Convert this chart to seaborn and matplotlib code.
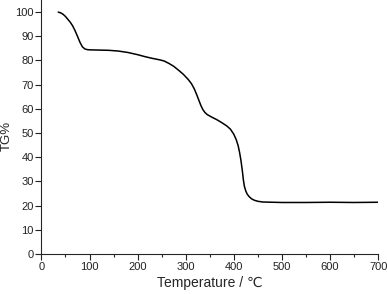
import numpy as np
import pandas as pd
import matplotlib
matplotlib.use("Agg")
import matplotlib.pyplot as plt
import seaborn as sns
from matplotlib.ticker import MultipleLocator

sns.set_style("ticks")
plt.rcParams['font.family'] = ['Liberation Sans', 'DejaVu Sans']

# TG curve
temperature = [35, 40, 45, 50, 55, 60, 65, 70, 75, 80, 85, 90, 95, 100, 120, 140, 160, 180, 200,
               215, 230, 245, 255, 265, 275, 285, 295, 305, 312, 318, 323, 328, 332, 336, 340, 345,
               355, 365, 375, 385, 393, 400, 405, 409, 412, 415, 418, 420, 422, 425, 428, 432, 437,
               443, 450, 460, 480, 500, 550, 600, 650, 700]
tg = [100.0, 99.7, 99.1, 98.2, 97.0, 95.8, 94.3, 92.3, 90.0, 87.6, 85.7, 84.8, 84.5, 84.4, 84.3, 84.2,
      83.9, 83.3, 82.4, 81.6, 80.9, 80.3, 79.8, 78.8, 77.6, 76.0, 74.3, 72.2, 70.4, 68.2, 65.8, 63.2,
      61.2, 59.6, 58.5, 57.6, 56.5, 55.5, 54.3, 53.0, 51.6, 49.5, 47.3, 44.8, 42.0, 38.5, 34.0, 30.5,
      28.0, 26.0, 24.7, 23.7, 22.8, 22.2, 21.8, 21.5, 21.4, 21.3, 21.3, 21.4, 21.3, 21.4]

df = pd.DataFrame({"Temperature": temperature, "TG": tg})

fig = plt.figure(figsize=(3.87, 2.94), dpi=100)
ax = fig.add_axes([0.107, 0.136, 0.870, 0.864])

sns.lineplot(data=df, x="Temperature", y="TG", sort=False, color="black", linewidth=1.1, ax=ax)

ax.set_xlim(0, 700)
ax.set_ylim(0, 105)
ax.xaxis.set_major_locator(MultipleLocator(100))
ax.xaxis.set_minor_locator(MultipleLocator(50))
ax.yaxis.set_major_locator(MultipleLocator(10))
ax.tick_params(axis='both', which='major', labelsize=8, length=4, width=0.8,
               direction='out', pad=1.5, colors='#222222')
ax.tick_params(axis='x', which='minor', length=2, width=0.8)
sns.despine(ax=ax)
for s in ["left", "bottom"]:
    ax.spines[s].set_linewidth(0.8)

ax.set_xlabel("Temperature / ℃", fontsize=10, labelpad=3)
ax.set_ylabel("TG%", fontsize=9.5)
ax.yaxis.set_label_coords(-0.086, 0.465)

fig.savefig("out.png", dpi=100)
